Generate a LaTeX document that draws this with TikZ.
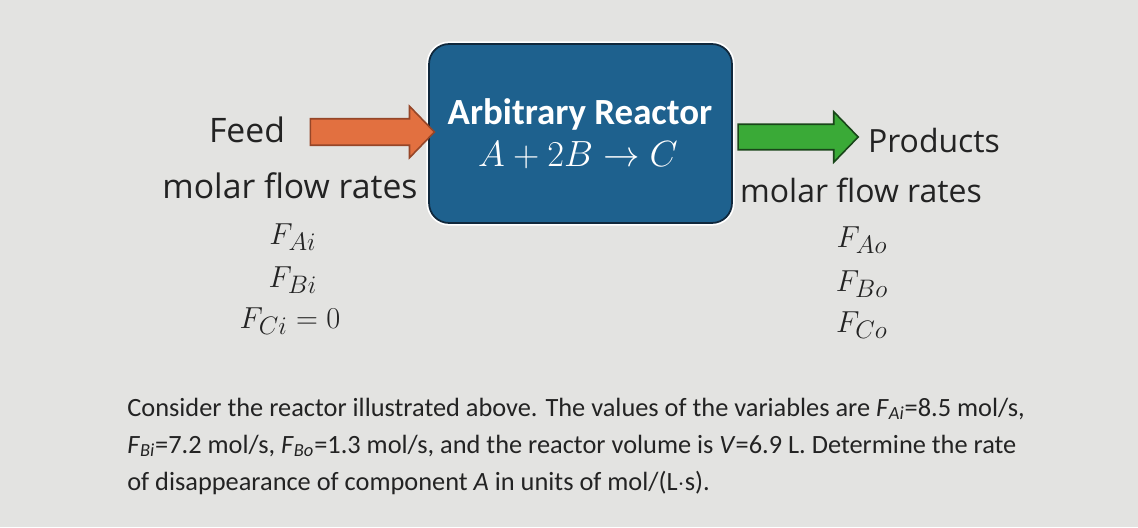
\documentclass[tikz,border=0pt]{standalone}
\usepackage{fontspec}
\setmainfont{Carlito}
\newfontfamily\labelfont{Open Sans}
\usetikzlibrary{shapes.arrows}

\definecolor{screenbg}{RGB}{227,227,225}
\definecolor{reactorblue}{RGB}{30,97,142}
\definecolor{reactoredge}{RGB}{16,40,60}
\definecolor{feedorange}{RGB}{226,112,64}
\definecolor{feededge}{RGB}{150,70,40}
\definecolor{prodgreen}{RGB}{58,170,55}
\definecolor{prodedge}{RGB}{25,70,25}
\definecolor{inktext}{RGB}{35,35,35}

\tikzset{
  lbl/.style={font=\labelfont\fontsize{19.2}{22}\selectfont, text=inktext, anchor=base, inner sep=0pt},
  lblr/.style={lbl, font=\labelfont\fontsize{18.2}{22}\selectfont},
  flow/.style={font=\fontsize{19}{22}\selectfont, text=inktext, anchor=base, inner sep=0pt},
  qline/.style={font=\fontsize{15}{21}\selectfont, text=inktext, anchor=base west, inner sep=0pt},
  blockarrow/.style={single arrow, single arrow head indent=0pt, single arrow tip angle=92,
    inner xsep=0pt, line width=0.9pt},
}

\begin{document}
\begin{tikzpicture}[x=0.02cm, y=-0.02cm]
    \fill[screenbg] (0,0) rectangle (1138,527);
    \useasboundingbox (0,0) rectangle (1138,527);

    % reactor box
    \node[draw=reactoredge, fill=reactorblue, line width=1pt, rounded corners=0.4cm,
          minimum width=6.06cm, minimum height=3.58cm,
          preaction={draw=white, line width=3pt}] (R) at (580.5,133.5) {};
    \node[font=\bfseries\fontsize{21}{24}\selectfont, text=white, anchor=base, inner sep=0pt] (Rt) at (580,124) {Arbitrary Reactor};
    \node[font=\fontsize{19.5}{22}\selectfont, text=white, anchor=base, inner sep=0pt] (Rr) at (578,166) {$A + 2B \rightarrow C$};

    % block arrows
    \node[blockarrow, draw=feededge, fill=feedorange, inner ysep=0.25cm,
          single arrow head extend=0.25cm, minimum height=2.48cm] (feed) at (366,132) {};
    \node[blockarrow, draw=prodedge, fill=prodgreen, inner ysep=0.24cm,
          single arrow head extend=0.25cm, minimum height=2.4cm] (prod) at (792,137) {};

    % feed side
    \node[lbl] (Fd) at (247,142) {Feed};
    \node[lbl] (Fm) at (290,198) {molar flow rates};
    \node[flow] (FA) at (293,244) {$F_{Ai}$};
    \node[flow] (FB) at (293,287) {$F_{Bi}$};
    \node[flow] (FC) at (290,328) {$F_{Ci} = 0$};

    % product side
    \node[lblr] (Pd) at (934,152) {Products};
    \node[lblr] (Pm) at (861,202) {molar flow rates};
    \node[flow] (PA) at (862,247) {$F_{Ao}$};
    \node[flow] (PB) at (862,291) {$F_{Bo}$};
    \node[flow] (PC) at (862,332) {$F_{Co}$};

    % question text
    \node[qline] (Q1) at (127,416) {Consider the reactor illustrated above. The values of the variables are \textit{F}\textsubscript{\textit{Ai}}=8.5 mol/s,};
    \node[qline] (Q2) at (127,453) {\textit{F}\textsubscript{\textit{Bi}}=7.2 mol/s, \textit{F}\textsubscript{\textit{Bo}}=1.3 mol/s, and the reactor volume is \textit{V}=6.9 L. Determine the rate};
    \node[qline] (Q3) at (127,490) {of disappearance of component \textit{A} in units of mol/(L$\cdot$s).};
\end{tikzpicture}
\end{document}
